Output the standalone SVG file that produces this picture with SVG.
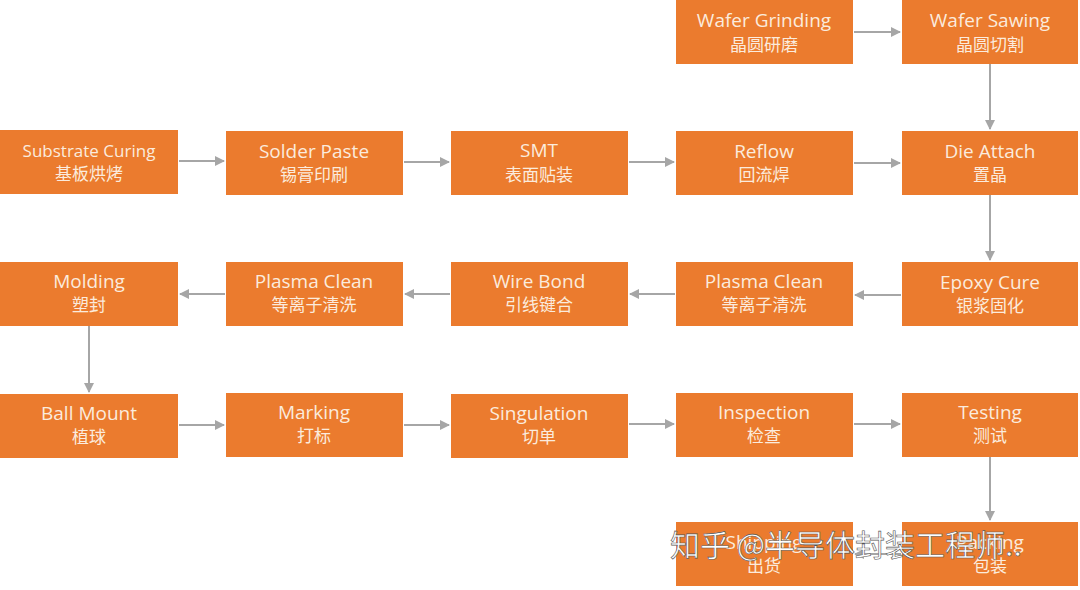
<svg xmlns="http://www.w3.org/2000/svg" width="1080" height="590" viewBox="0 0 1080 590">
<style>
.b{fill:#EB7B2E}
.t{font-family:"Open Sans","Noto Sans CJK SC",sans-serif;font-size:19px;fill:#FBEBDD;text-anchor:middle}
.c{font-family:"Noto Sans CJK SC",sans-serif;font-size:17px;fill:#FBEBDD;text-anchor:middle}
.l{stroke:#A6A6A6;stroke-width:2;fill:none;marker-end:url(#a)}
.w{font-family:"Noto Sans CJK SC",sans-serif;font-size:30px;fill:#fff;stroke:#555;stroke-width:0.6}
</style>
<defs><marker id="a" markerWidth="10" markerHeight="10" refX="9" refY="5" orient="auto" markerUnits="userSpaceOnUse"><path d="M0,0 L10,5 L0,10 Z" fill="#A6A6A6"/></marker></defs>
<rect width="1080" height="590" fill="#fff"/>
<g id="n1"><rect class="b" x="676" y="0" width="177" height="64"/><text class="t" x="764" y="27">Wafer Grinding</text><text class="c" x="764" y="51">晶圆研磨</text></g>
<g id="n2"><rect class="b" x="902" y="0" width="176" height="64"/><text class="t" x="990" y="27">Wafer Sawing</text><text class="c" x="990" y="51">晶圆切割</text></g>
<g id="n3"><rect class="b" x="0" y="130" width="178" height="64"/><text class="t" x="89" y="157" style="font-size:17px">Substrate Curing</text><text class="c" x="89" y="180">基板烘烤</text></g>
<g id="n4"><rect class="b" x="226" y="131" width="177" height="64"/><text class="t" x="314" y="158">Solder Paste</text><text class="c" x="314" y="181">锡膏印刷</text></g>
<g id="n5"><rect class="b" x="451" y="131" width="177" height="64"/><text class="t" x="539" y="157">SMT</text><text class="c" x="539" y="181">表面贴装</text></g>
<g id="n6"><rect class="b" x="676" y="131" width="177" height="64"/><text class="t" x="764" y="158">Reflow</text><text class="c" x="764" y="181">回流焊</text></g>
<g id="n7"><rect class="b" x="902" y="131" width="176" height="64"/><text class="t" x="990" y="158">Die Attach</text><text class="c" x="990" y="181">置晶</text></g>
<g id="n8"><rect class="b" x="0" y="262" width="178" height="64"/><text class="t" x="89" y="288">Molding</text><text class="c" x="89" y="311">塑封</text></g>
<g id="n9"><rect class="b" x="226" y="262" width="177" height="64"/><text class="t" x="314" y="288">Plasma Clean</text><text class="c" x="314" y="311">等离子清洗</text></g>
<g id="n10"><rect class="b" x="451" y="262" width="177" height="64"/><text class="t" x="539" y="288">Wire Bond</text><text class="c" x="539" y="311">引线键合</text></g>
<g id="n11"><rect class="b" x="676" y="262" width="177" height="64"/><text class="t" x="764" y="288">Plasma Clean</text><text class="c" x="764" y="311">等离子清洗</text></g>
<g id="n12"><rect class="b" x="902" y="262" width="176" height="64"/><text class="t" x="990" y="289">Epoxy Cure</text><text class="c" x="990" y="312">银浆固化</text></g>
<g id="n13"><rect class="b" x="0" y="394" width="178" height="64"/><text class="t" x="89" y="420">Ball Mount</text><text class="c" x="89" y="443">植球</text></g>
<g id="n14"><rect class="b" x="226" y="393" width="177" height="64"/><text class="t" x="314" y="419">Marking</text><text class="c" x="314" y="442">打标</text></g>
<g id="n15"><rect class="b" x="451" y="394" width="177" height="64"/><text class="t" x="539" y="420">Singulation</text><text class="c" x="539" y="443">切单</text></g>
<g id="n16"><rect class="b" x="676" y="393" width="177" height="64"/><text class="t" x="764" y="419">Inspection</text><text class="c" x="764" y="442">检查</text></g>
<g id="n17"><rect class="b" x="902" y="393" width="176" height="64"/><text class="t" x="990" y="419">Testing</text><text class="c" x="990" y="442">测试</text></g>
<g id="n18"><rect class="b" x="676" y="522" width="177" height="64"/><text class="t" x="764" y="549">Shipping</text><text class="c" x="764" y="572">出货</text></g>
<g id="n19"><rect class="b" x="902" y="522" width="176" height="64"/><text class="t" x="990" y="549">Packing</text><text class="c" x="990" y="572">包装</text></g>
<g id="edges">
<path class="l" d="M854,32 H900"/>
<path class="l" d="M990,64 V129"/>
<path class="l" d="M179,161 H224"/>
<path class="l" d="M404,162 H449"/>
<path class="l" d="M629,162 H674"/>
<path class="l" d="M854,163 H900"/>
<path class="l" d="M990,195 V260"/>
<path class="l" d="M901,295 H855"/>
<path class="l" d="M675,294 H630"/>
<path class="l" d="M450,294 H405"/>
<path class="l" d="M225,294 H180"/>
<path class="l" d="M89,326 V392"/>
<path class="l" d="M179,425 H224"/>
<path class="l" d="M404,425 H449"/>
<path class="l" d="M629,424 H674"/>
<path class="l" d="M854,424 H900"/>
<path class="l" d="M990,457 V520"/>
<path class="l" d="M901,554 H855"/>
</g>
<text class="w" x="670" y="556">知乎 @半导体封装工程师..</text>
</svg>
